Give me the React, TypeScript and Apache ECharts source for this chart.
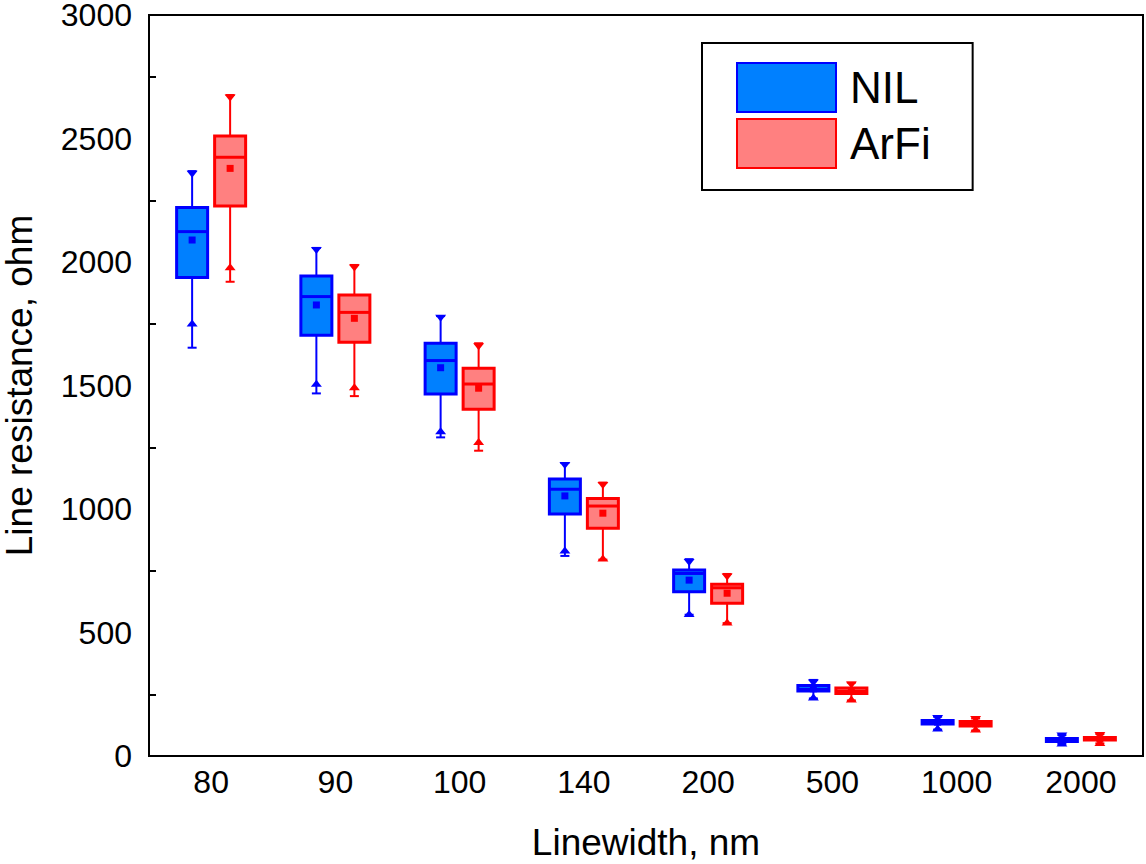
import React, { useEffect, useRef } from "react";
import * as echarts from "echarts";

const categories = ["80", "90", "100", "140", "200", "500", "1000", "2000"];

// per category: [min, p1, q1, median, mean, q3, p99, max]
const nilMin = [1653, 1468, 1290, 810, 572, 233, 107, 49];
const nilP1 = [1753, 1509, 1317, 834, 577, 239, 113, 53];
const nilQ1 = [1937, 1703, 1466, 980, 665, 263, 130, 59];
const nilMedian = [2123, 1860, 1601, 1080, 739, 270, 137, 66];
const nilMean = [2089, 1826, 1572, 1053, 712, 272, 137, 66];
const nilQ3 = [2221, 1943, 1671, 1121, 753, 285, 144, 71];
const nilP99 = [2355, 2047, 1772, 1176, 783, 296, 152, 81];
const nilMax = [2368, 2057, 1781, 1186, 797, 308, 159, 85];

const arfMin = [1920, 1457, 1236, 795, 538, 225, 103, 51];
const arfP1 = [1981, 1495, 1273, 802, 543, 231, 109, 55];
const arfQ1 = [2227, 1675, 1404, 922, 618, 253, 121, 65];
const arfMedian = [2424, 1796, 1506, 1012, 681, 262, 130, 70];
const arfMean = [2379, 1772, 1489, 983, 659, 262, 130, 70];
const arfQ3 = [2510, 1866, 1570, 1043, 695, 275, 140, 75];
const arfP99 = [2664, 1976, 1657, 1095, 725, 287, 148, 83];
const arfMax = [2676, 1988, 1671, 1107, 737, 297, 152, 89];

const FONT = "'Liberation Sans', Arial, sans-serif";

function buildData(mins, p1, q1, med, mean, q3, p99, max) {
  return categories.map((_, i) => [i, mins[i], p1[i], q1[i], med[i], mean[i], q3[i], p99[i], max[i]]);
}

function makeRenderItem(offset: number, stroke: string, fill: string) {
  return (params: any, api: any) => {
    const cat = api.value(0);
    const vMin = api.value(1);
    const vP1 = api.value(2);
    const vQ1 = api.value(3);
    const vMed = api.value(4);
    const vMean = api.value(5);
    const vQ3 = api.value(6);
    const vP99 = api.value(7);
    const vMax = api.value(8);
    const cx = api.coord([cat, 0])[0] + offset;
    const y = (v: number) => api.coord([cat, v])[1];
    const hw = 15.5;
    const capHw = 4.5;
    const triHw = 5.5;
    const triH = 3.5;
    const ms = 3.5;
    const lineStyle = { stroke, lineWidth: 2 };
    const children: any[] = [
      { type: "line", shape: { x1: cx, y1: y(vQ3), x2: cx, y2: y(vMax) }, style: lineStyle },
      { type: "line", shape: { x1: cx, y1: y(vQ1), x2: cx, y2: y(vMin) }, style: lineStyle },
      { type: "line", shape: { x1: cx - capHw, y1: y(vMax), x2: cx + capHw, y2: y(vMax) }, style: lineStyle },
      { type: "line", shape: { x1: cx - capHw, y1: y(vMin), x2: cx + capHw, y2: y(vMin) }, style: lineStyle },
      {
        type: "rect",
        shape: { x: cx - hw, y: y(vQ3), width: hw * 2, height: y(vQ1) - y(vQ3) },
        style: { fill, stroke, lineWidth: 3 },
      },
      { type: "line", shape: { x1: cx - hw, y1: y(vMed), x2: cx + hw, y2: y(vMed) }, style: { stroke, lineWidth: 3 } },
      { type: "rect", shape: { x: cx - ms, y: y(vMean) - ms, width: ms * 2, height: ms * 2 }, style: { fill: stroke } },
      {
        type: "polygon",
        shape: { points: [[cx - triHw, y(vP99) - triH], [cx + triHw, y(vP99) - triH], [cx, y(vP99) + triH]] },
        style: { fill: stroke },
      },
      {
        type: "polygon",
        shape: { points: [[cx - triHw, y(vP1) + triH], [cx + triHw, y(vP1) + triH], [cx, y(vP1) - triH]] },
        style: { fill: stroke },
      },
    ];
    return { type: "group", children };
  };
}

export default function App() {
  const ref = useRef<HTMLDivElement>(null);
  useEffect(() => {
    if (!ref.current) return;
    const chart = echarts.init(ref.current, null, { renderer: "svg" });
    const nilData = buildData(nilMin, nilP1, nilQ1, nilMedian, nilMean, nilQ3, nilP99, nilMax);
    const arfData = buildData(arfMin, arfP1, arfQ1, arfMedian, arfMean, arfQ3, arfP99, arfMax);
    chart.setOption({
      animation: false,
      backgroundColor: "#fff",
      textStyle: { fontFamily: FONT, color: "#000" },
      grid: {
        left: 149,
        right: 3,
        top: 15,
        bottom: 108,
        show: true,
        borderColor: "#000",
        borderWidth: 2,
        containLabel: false,
        outerBoundsMode: "none",
      },
      legend: {
        orient: "vertical",
        left: 702,
        top: 43,
        itemWidth: 99,
        itemHeight: 49,
        itemGap: 5,
        padding: [19, 42, 21, 34],
        borderColor: "#000",
        borderWidth: 2,
        backgroundColor: "#fff",
        textStyle: { fontSize: 44, fontFamily: FONT, color: "#000", padding: [0, 0, 0, 9] },
        data: [
          { name: "NIL", icon: "rect", itemStyle: { color: "#0080FF", borderColor: "#0000FF", borderWidth: 2 } },
          { name: "ArFi", icon: "rect", itemStyle: { color: "#FF8080", borderColor: "#FF0000", borderWidth: 2 } },
        ],
      },
      xAxis: {
        type: "category",
        data: categories,
        boundaryGap: true,
        name: "Linewidth, nm",
        nameLocation: "middle",
        nameGap: 68,
        nameTextStyle: { fontSize: 37, fontFamily: FONT, color: "#000" },
        axisLine: { lineStyle: { color: "#000", width: 2 } },
        axisTick: { inside: true, alignWithLabel: true, length: 13, lineStyle: { color: "#000", width: 2 } },
        axisLabel: { fontSize: 32, fontFamily: FONT, color: "#000", margin: 10 },
        splitLine: { show: false },
      },
      yAxis: {
        type: "value",
        min: 0,
        max: 3000,
        interval: 500,
        name: "Line resistance, ohm",
        nameLocation: "middle",
        nameGap: 111,
        nameRotate: 90,
        nameTextStyle: { fontSize: 37, lineHeight: 37, fontFamily: FONT, color: "#000" },
        axisLine: { show: true, lineStyle: { color: "#000", width: 2 } },
        axisTick: { inside: true, length: 12, lineStyle: { color: "#000", width: 2 } },
        minorTick: { show: true, splitNumber: 2, length: 7, lineStyle: { color: "#000", width: 2 } },
        axisLabel: {
          fontSize: 32,
          lineHeight: 30,
          fontFamily: FONT,
          color: "#000",
          margin: 17,
          formatter: (v: number) => String(v),
        },
        splitLine: { show: false },
        minorSplitLine: { show: false },
      },
      series: [
        {
          name: "NIL",
          type: "custom",
          itemStyle: { color: "#0080FF", borderColor: "#0000FF" },
          encode: { x: 0, y: [1, 2, 3, 4, 5, 6, 7, 8] },
          renderItem: makeRenderItem(-19, "#0000FF", "#0080FF"),
          data: nilData,
        },
        {
          name: "ArFi",
          type: "custom",
          itemStyle: { color: "#FF8080", borderColor: "#FF0000" },
          encode: { x: 0, y: [1, 2, 3, 4, 5, 6, 7, 8] },
          renderItem: makeRenderItem(19, "#FF0000", "#FF8080"),
          data: arfData,
        },
      ],
    });
    return () => chart.dispose();
  }, []);
  return <div ref={ref} style={{ position: "fixed", left: 0, top: 0, width: 1146, height: 864 }} />;
}
